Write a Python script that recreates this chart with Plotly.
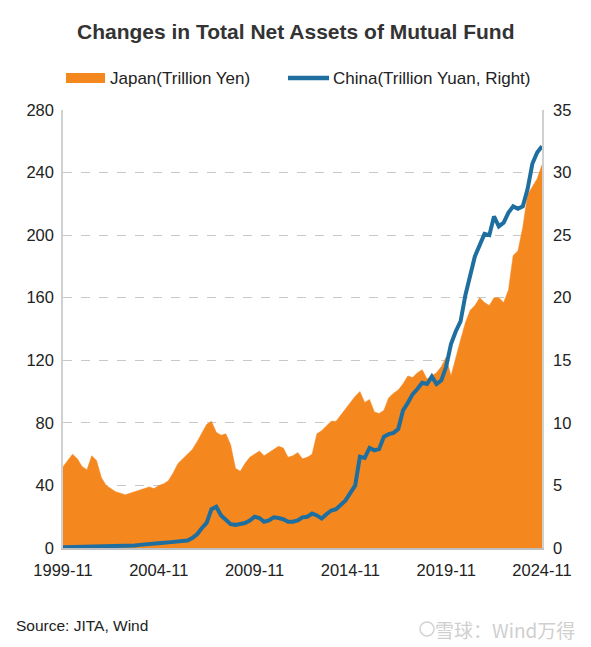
import pandas as pd
import plotly.graph_objects as go

# quarterly points, 1999-11 .. 2024-11
dates = pd.date_range("1999-11-01", periods=101, freq="3MS")

japan_tn_yen = [
    52, 56, 60, 57, 52, 50, 59, 56, 45, 40, 38, 36, 35, 34, 35, 36, 37, 38, 39, 38,
    40, 41, 43, 48, 54, 57, 60, 63, 68, 74, 79, 81, 74, 72, 73, 66, 51, 49, 54, 58,
    60, 62, 59, 61, 63, 65, 64, 58, 59, 61, 57, 58, 60, 73, 75, 78, 81, 81, 85, 89,
    93, 97, 100, 93, 95, 87, 86, 88, 96, 99, 101, 105, 110, 109, 112, 114, 108, 110, 112, 116,
    122, 110, 122, 133, 144, 152, 155, 160, 157, 155, 160, 160, 157, 165, 187, 190, 205, 226, 231, 236,
    245,
]

china_tn_yuan = [
    0.05, 0.06, 0.07, 0.08, 0.08, 0.08, 0.08, 0.08, 0.09, 0.09, 0.10, 0.10, 0.12, 0.14, 0.16, 0.20, 0.25, 0.30, 0.33, 0.35,
    0.40, 0.42, 0.45, 0.50, 0.50, 0.55, 0.60, 0.80, 1.10, 1.60, 2.00, 3.10, 3.30, 2.60, 2.30, 1.90, 1.85, 1.95, 2.00, 2.20,
    2.50, 2.40, 2.10, 2.20, 2.45, 2.40, 2.30, 2.10, 2.10, 2.20, 2.45, 2.50, 2.75, 2.60, 2.35, 2.70, 3.00, 3.10, 3.40, 3.80,
    4.40, 5.00, 7.30, 7.20, 8.00, 7.80, 7.90, 8.90, 9.10, 9.20, 9.50, 11.0, 11.6, 12.3, 12.7, 13.2, 13.1, 13.7, 13.1, 13.4,
    14.5, 16.3, 17.3, 18.1, 20.2, 21.7, 23.3, 24.2, 25.1, 25.0, 26.5, 25.7, 26.0, 26.8, 27.3, 27.1, 27.3, 28.7, 30.7, 31.6,
    32.1,
]

tick_dates = ["1999-11-01", "2004-11-01", "2009-11-01", "2014-11-01", "2019-11-01", "2024-11-01"]
tick_labels = ["1999-11", "2004-11", "2009-11", "2014-11", "2019-11", "2024-11"]

FONT = "Liberation Sans, Arial, sans-serif"
ORANGE = "#F5871F"
BLUE = "#1E6F9F"

# plot area in pixels: x 63..542, y 110..548
L, R, T, B = 63, 542, 110, 548


def px(x):
    return (x - L) / (R - L)


def py(y):
    return (B - y) / (B - T)


fig = go.Figure()

fig.add_trace(go.Scatter(
    x=dates, y=japan_tn_yen, name="Japan(Trillion Yen)",
    mode="lines", fill="tozeroy", fillcolor=ORANGE,
    line=dict(color=ORANGE, width=0.5), showlegend=False,
))

fig.add_trace(go.Scatter(
    x=dates, y=china_tn_yuan, name="China(Trillion Yuan, Right)",
    mode="lines", yaxis="y2",
    line=dict(color=BLUE, width=4), showlegend=False,
))

# hand-placed legend
shapes = [
    dict(type="rect", xref="paper", yref="paper", x0=px(66), x1=px(105), y0=py(83), y1=py(73),
         fillcolor=ORANGE, line=dict(width=0)),
    dict(type="line", xref="paper", yref="paper", x0=px(288), x1=px(329), y0=py(78), y1=py(78),
         line=dict(color=BLUE, width=4.5)),
    # watermark logo
    dict(type="circle", xref="paper", yref="paper", x0=px(420), x1=px(434), y0=py(636), y1=py(622),
         line=dict(color="#d2d2d2", width=1.5)),
]

annotations = [
    dict(text="<b>Changes in Total Net Assets of Mutual Fund</b>", xref="paper", yref="paper",
         x=px(296), xanchor="center", y=py(31), yanchor="middle", showarrow=False,
         font=dict(size=21, color="#333333")),
    dict(text="Japan(Trillion Yen)", xref="paper", yref="paper",
         x=px(108), xanchor="left", y=py(78), yanchor="middle", showarrow=False,
         font=dict(size=17, color="#222222")),
    dict(text="China(Trillion Yuan, Right)", xref="paper", yref="paper",
         x=px(331), xanchor="left", y=py(78), yanchor="middle", showarrow=False,
         font=dict(size=17, color="#222222")),
    dict(text="Source: JITA, Wind", xref="paper", yref="paper",
         x=px(14), xanchor="left", y=py(625), yanchor="middle",
         showarrow=False, font=dict(size=15.5, color="#222222")),
    dict(text="雪球：Wind万得", xref="paper", yref="paper",
         x=px(577), xanchor="right", y=py(629), yanchor="middle",
         showarrow=False, font=dict(family="Noto Sans CJK SC", size=19, color="#cfcfcf")),
]

fig.update_layout(
    width=591, height=647,
    margin=dict(l=L, r=591 - R, t=T, b=647 - B),
    paper_bgcolor="white", plot_bgcolor="white",
    font=dict(family=FONT, size=16, color="#222222"),
    showlegend=False,
    xaxis=dict(type="date", range=["1999-11-01", "2024-11-01"],
               tickvals=tick_dates, ticktext=tick_labels,
               showgrid=False, showline=True, linecolor="#bfbfbf", linewidth=1.5,
               ticks="", tickfont=dict(size=16.5), ticklabelstandoff=6),
    yaxis=dict(range=[0, 280], dtick=40, showgrid=True, gridcolor="#c8c8c8",
               griddash="dash", gridwidth=1.3, zeroline=False,
               showline=True, linecolor="#d0d0d0", linewidth=1.5, ticks="",
               tickfont=dict(size=16.5), ticklabelstandoff=4),
    yaxis2=dict(range=[0, 35], dtick=5, overlaying="y", side="right",
                showgrid=False, zeroline=False, showline=True,
                linecolor="#d0d0d0", linewidth=1.5, ticks="",
                tickfont=dict(size=16.5), ticklabelstandoff=6),
    shapes=shapes,
    annotations=annotations,
)

fig.write_html("out.html", config={"displayModeBar": False},
               post_script="document.body.style.margin = '0';")
